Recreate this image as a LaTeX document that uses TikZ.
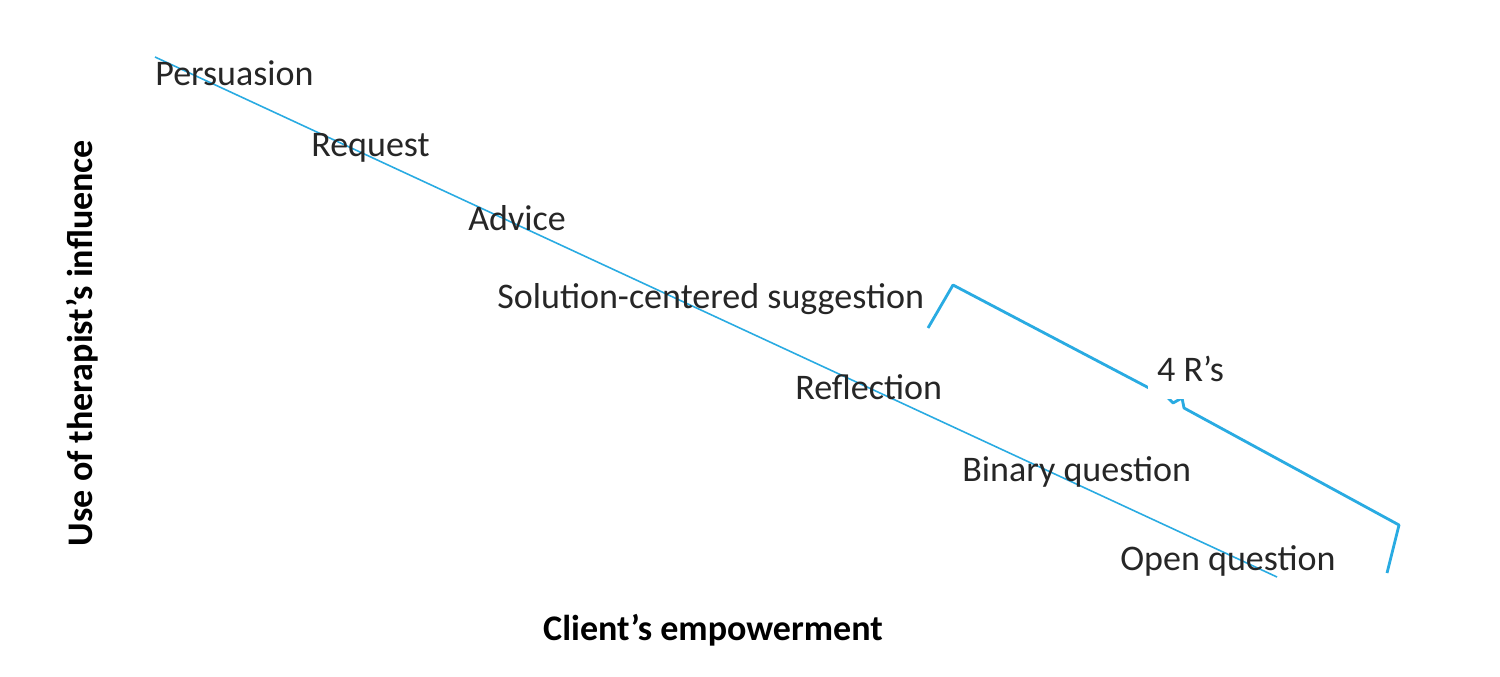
\documentclass[tikz,border=0pt]{standalone}
\usepackage{fontspec}
\setmainfont{Carlito}
\definecolor{lineblue}{RGB}{41,171,226}
\begin{document}
\begin{tikzpicture}[x=0.02cm,y=-0.02cm,
  lab/.style={anchor=west,inner sep=0pt,font=\fontsize{20.5}{24}\selectfont,text=black!85},
  axis/.style={font=\bfseries\fontsize{20.5}{24}\selectfont,inner sep=0pt}]
\useasboundingbox (0,0) rectangle (1500,676);
\fill[white] (0,0) rectangle (1500,676);
\coordinate (a) at (155,57);
\coordinate (b) at (1277,577);
\draw[lineblue,line width=0.9pt] (a) -- (b);
\draw[lineblue,line width=1.6pt,line join=round] (928,328) -- (953,285) -- (1168,398) -- (1173,403) -- (1182,398) -- (1184,408) -- (1399,525) -- (1387,573);
\node[lab] (p) at (155,73) {Persuasion};
\node[lab] (r) at (311,148) {Request};
\node[lab] (ad) at (468,218) {Advice};
\node[lab] (s) at (497,299) {Solution-centered suggestion};
\node[lab] (rf) at (795,387) {Reflection};
\node[lab] (bq) at (962,472) {Binary question};
\node[lab] (oq) at (1120,561) {Open question};
\node[lab,fill=white,inner sep=5pt,minimum height=34pt] (fr) at (1148,369) {4 R’s};
\node[axis] (x) at (713,630) {Client’s empowerment};
\node[axis,rotate=90] (y) at (82,343) {Use of therapist’s influence};
\end{tikzpicture}
\end{document}
